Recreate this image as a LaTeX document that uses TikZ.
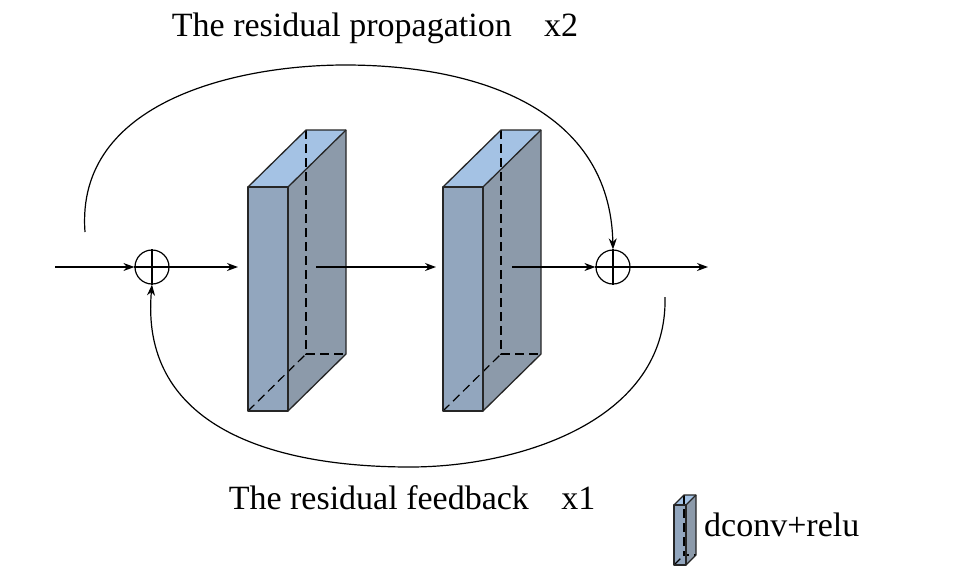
\documentclass[tikz,border=0pt]{standalone}
\usepackage{fontspec}
\setmainfont{Liberation Serif}
\usetikzlibrary{arrows.meta}
\definecolor{frontc}{RGB}{146,166,190}
\definecolor{sidec}{RGB}{140,154,170}
\definecolor{topc}{RGB}{164,194,228}
\tikzset{
  ar/.style={-{Stealth[length=11pt,width=8pt]},line width=1.2pt},
  plus/.style={circle,draw,line width=1.2pt,minimum size=34pt,inner sep=0pt},
  lbl/.style={font=\fontsize{34}{40}\selectfont,inner sep=0pt},
  edge/.style={line width=1.3pt,draw=black!85,line join=round},
  hid/.style={line width=1.2pt,dash pattern=on 9pt off 5pt}
}
\newcommand{\blockbox}[6]{% x y w h dx dy
  \fill[frontc] (#1,#2) rectangle ++(#3,-#4);
  \fill[sidec] (#1+#3,#2) -- ++(#5,#6) -- ++(0,-#4) -- ++(-#5,-#6) -- cycle;
  \fill[topc] (#1,#2) -- ++(#3,0) -- ++(#5,#6) -- ++(-#3,0) -- cycle;
  \draw[hid] (#1+#5,#2+#6) -- ++(0,-#4) -- ++(#3,0);
  \draw[hid] (#1,#2-#4) -- ++(#5,#6);
  \draw[edge] (#1,#2) rectangle ++(#3,-#4);
  \draw[edge] (#1,#2) -- ++(#5,#6) -- ++(#3,0) -- ++(0,-#4) -- ++(-#5,-#6);
  \draw[edge] (#1+#3,#2) -- ++(#5,#6);
}
\begin{document}
\begin{tikzpicture}[x=1pt,y=1pt]
\useasboundingbox (0,0) rectangle (954,-582);
\blockbox{248}{-187}{40}{224}{58}{57}
\blockbox{443}{-187}{40}{224}{58}{57}
\blockbox{674}{-505}{12}{60}{10}{10}
\node[plus] (p1) at (152,-267) {};
\node[plus] (p2) at (613,-267) {};
\draw[line width=1.2pt] (p1.west)--(p1.east) (p1.north)--(p1.south);
\draw[line width=1.2pt] (p2.west)--(p2.east) (p2.north)--(p2.south);
\coordinate (in) at (55,-267);
\coordinate (b1in) at (238,-267);
\coordinate (b1out) at (316,-267);
\coordinate (b2in) at (436,-267);
\coordinate (b2out) at (512,-267);
\coordinate (out) at (708,-267);
\coordinate (ts) at (85,-232);
\coordinate (bs) at (665,-297);
\draw[ar] (in) -- (p1);
\draw[ar] (p1) -- (b1in);
\draw[ar] (b1out) -- (b2in);
\draw[ar] (b2out) -- (p2);
\draw[ar] (p2) -- (out);
\draw[ar] (ts) .. controls (75,-100) and (240,-65) .. (345,-65) .. controls (480,-65) and (610,-110) .. (p2.north);
\draw[ar] (bs) .. controls (668,-420) and (520,-467) .. (410,-467) .. controls (260,-467) and (140,-420) .. (p1.south);
\node[lbl] (t1) at (375,-28) {The residual propagation\hspace{0.7em} x2};
\node[lbl] (t2) at (412,-498) {The residual feedback\hspace{0.7em} x1};
\node[lbl,anchor=west] (t3) at (704,-525) {dconv+relu};
\end{tikzpicture}
\end{document}
